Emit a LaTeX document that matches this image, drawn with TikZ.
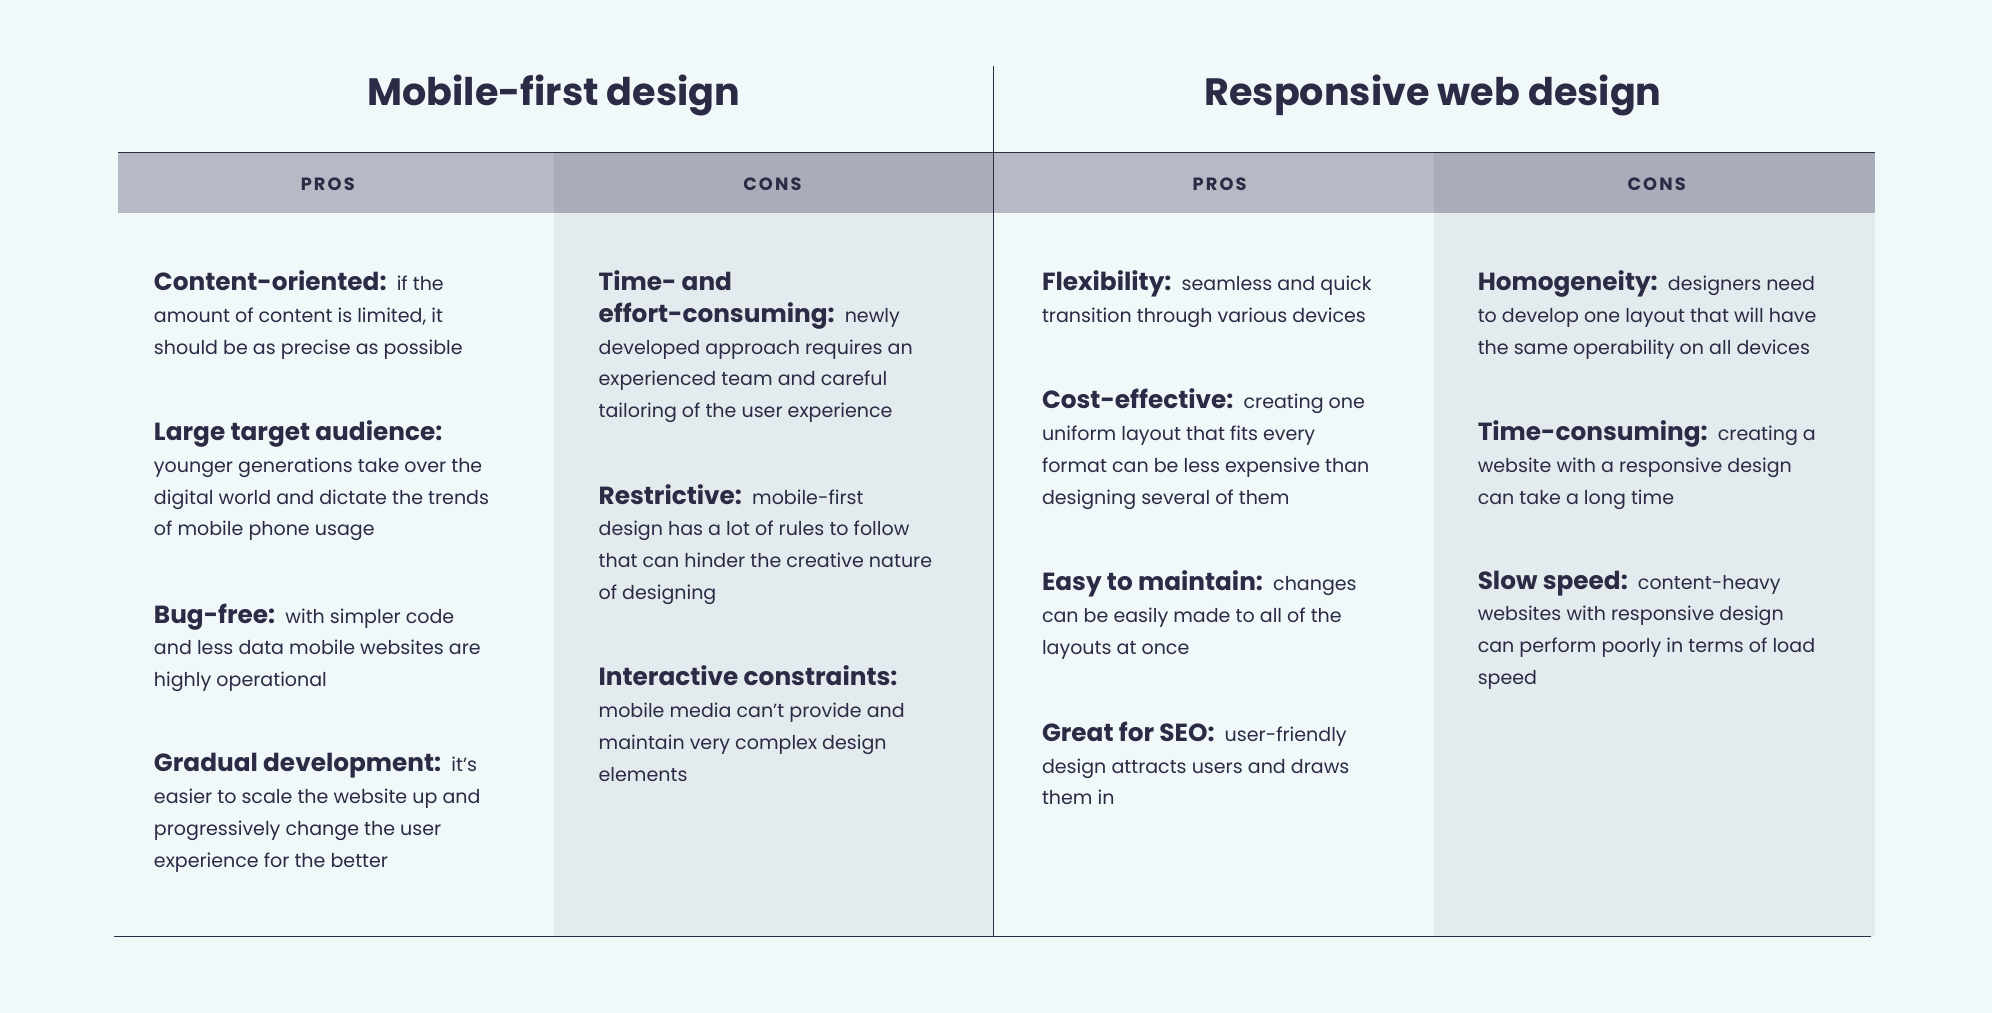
\documentclass[tikz,border=0pt]{standalone}
\usepackage{fontspec}
\setmainfont{Poppins}
\usetikzlibrary{positioning}
\definecolor{bgcol}{HTML}{F0F8FA}
\definecolor{inkcol}{HTML}{2B2B45}
\definecolor{proshead}{HTML}{B5BAC4}
\definecolor{conshead}{HTML}{A8ADB9}
\definecolor{consbody}{HTML}{E3EBEE}
\newcommand\itemhead[1]{{\fontsize{19.5}{25}\selectfont\bfseries #1}}
\tikzset{
  entry/.style={anchor=north west,align=left,inner sep=0pt,text=inkcol,
    font=\fontsize{15}{25}\selectfont},
  colhead/.style={text=inkcol,font=\fontsize{14}{15}\selectfont\bfseries\addfontfeatures{LetterSpace=12}},
  title/.style={text=inkcol,font=\fontsize{30}{32}\selectfont\bfseries}
}
\begin{document}
\begin{tikzpicture}[x=1pt,y=-1pt]
      \fill[bgcol] (0,0) rectangle (1568,797);
      \useasboundingbox (0,0) rectangle (1568,797);

      % column backgrounds
      \fill[consbody] (436,168) rectangle (782,737);
      \fill[consbody] (1129,168) rectangle (1476,737);
      \fill[proshead] (93,120) rectangle (436,168);
      \fill[conshead] (436,120) rectangle (782,168);
      \fill[proshead] (782,120) rectangle (1129,168);
      \fill[conshead] (1129,120) rectangle (1476,168);

      % rules
      \draw[inkcol,line width=1.2pt] (93,120) -- (1476,120);
      \draw[inkcol,line width=1.2pt] (90,737) -- (1473,737);
      \draw[inkcol,line width=1.2pt] (782,52) -- (782,737);

      % titles and column heads
      \node[title] (mftitle) at (436,75) {Mobile-first design};
      \node[title] (rwtitle) at (1128,75) {Responsive web design};
      \node[colhead] (mfpros) at (258,145) {PROS};
      \node[colhead] (mfcons) at (608,145) {CONS};
      \node[colhead] (rwpros) at (960,145) {PROS};
      \node[colhead] (rwcons) at (1304,145) {CONS};

      % mobile-first pros
      \node[entry] (mfp1) at (121,213) {\itemhead{Content-oriented:}\ \ if the\\amount of content is limited, it\\should be as precise as possible};
      \node[entry] (mfp2) at (121,331) {\itemhead{Large target audience:}\\younger generations take over the\\digital world and dictate the trends\\of mobile phone usage};
      \node[entry] (mfp3) at (121,475) {\itemhead{Bug-free:}\ \ with simpler code\\and less data mobile websites are\\highly operational};
      \node[entry] (mfp4) at (121,593) {\itemhead{Gradual development:}\ \ it's\\easier to scale the website up and\\progressively change the user\\experience for the better};

      % mobile-first cons
      \node[entry] (mfc1) at (471,213) {\itemhead{Time- and}\\\itemhead{effort-consuming:}\ \ newly\\developed approach requires an\\experienced team and careful\\tailoring of the user experience};
      \node[entry] (mfc2) at (471,381) {\itemhead{Restrictive:}\ \ mobile-first\\design has a lot of rules to follow\\that can hinder the creative nature\\of designing};
      \node[entry] (mfc3) at (471,524) {\itemhead{Interactive constraints:}\\mobile media can't provide and\\maintain very complex design\\elements};

      % responsive pros
      \node[entry] (rwp1) at (820,213) {\itemhead{Flexibility:}\ \ seamless and quick\\transition through various devices};
      \node[entry] (rwp2) at (820,306) {\itemhead{Cost-effective:}\ \ creating one\\uniform layout that fits every\\format can be less expensive than\\designing several of them};
      \node[entry] (rwp3) at (820,449) {\itemhead{Easy to maintain:}\ \ changes\\can be easily made to all of the\\layouts at once};
      \node[entry] (rwp4) at (820,568) {\itemhead{Great for SEO:}\ \ user-friendly\\design attracts users and draws\\them in};

      % responsive cons
      \node[entry] (rwc1) at (1163,213) {\itemhead{Homogeneity:}\ \ designers need\\to develop one layout that will have\\the same operability on all devices};
      \node[entry] (rwc2) at (1163,331) {\itemhead{Time-consuming:}\ \ creating a\\website with a responsive design\\can take a long time};
      \node[entry] (rwc3) at (1163,449) {\itemhead{Slow speed:}\ \ content-heavy\\websites with responsive design\\can perform poorly in terms of load\\speed};
\end{tikzpicture}
\end{document}
